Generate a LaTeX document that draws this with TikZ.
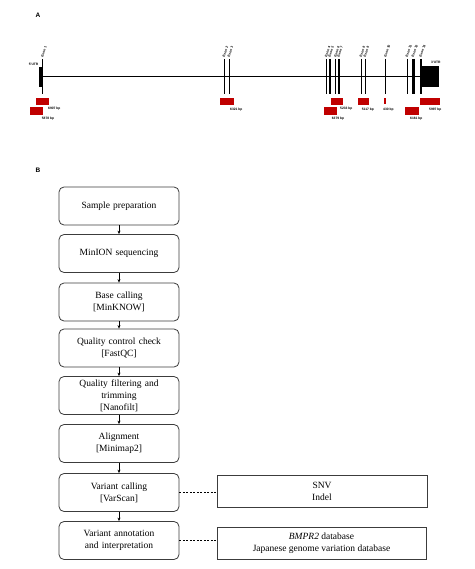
\documentclass[tikz,border=0pt]{standalone}
\usepackage{fontspec}
\setmainfont{Liberation Serif}
\newfontfamily\lsans{Liberation Sans}
\usetikzlibrary{arrows.meta}
\definecolor{exred}{RGB}{192,0,0}
\definecolor{boxline}{RGB}{60,60,60}
\begin{document}
\begin{tikzpicture}[x=1pt,y=-1pt,
  flowbox/.style={draw=boxline,line width=0.8pt,rounded corners=5pt,minimum width=120pt,minimum height=38pt,text width=112pt,align=center,inner sep=1pt,font=\fontsize{9.5}{12}\selectfont},
  sidebox/.style={draw=boxline,line width=0.8pt,minimum height=32pt,align=center,inner sep=1pt,font=\fontsize{9.5}{12}\selectfont},
  flowarrow/.style={-{Stealth[length=3.5pt,width=3pt]},line width=0.7pt},
  dashlink/.style={dashed,line width=0.6pt,dash pattern=on 2pt off 1.5pt},
  exonline/.style={line width=1.2pt},
  exlabel/.style={font=\lsans\bfseries\fontsize{3.3}{4}\selectfont,rotate=70,anchor=west,inner sep=0pt},
  bplabel/.style={font=\lsans\bfseries\fontsize{3.3}{4}\selectfont,anchor=west,inner sep=0pt},
  redbox/.style={fill=exred,draw=none},
  panel/.style={font=\lsans\bfseries\fontsize{6.5}{7}\selectfont,inner sep=0pt}
]
\useasboundingbox (0,0) rectangle (474,569);
\fill[white] (0,0) rectangle (474,569);

% ---------- Panel A ----------
\node[panel] (lblA) at (38,15) {A};
% main line
\draw[line width=0.9pt] (42.7,76.5) -- (422,76.5);
% 5'UTR and 3'UTR blocks
\fill (38.7,67) rectangle (42.7,87);
\fill (421,66) rectangle (439,87);
\node[bplabel,anchor=south east] (utr5) at (38.5,65.5) {5'UTR};
\node[bplabel,anchor=south west] (utr3) at (431,64) {3'UTR};
% exon lines
\foreach \x/\n in {42.7/1,224.3/2,229.3/3,326.5/4,330/5,335.7/6,339/7,361.3/8,365.3/9,385.7/10,407.3/11,421/13}{
  \draw[exonline] (\x,59) -- (\x,94);
  \node[exlabel] (ex\n) at (\x-0.8,57) {Exon \n};
}
\draw[line width=2.4pt] (413.3,59) -- (413.3,94);
\node[exlabel] (ex12) at (412.5,57) {Exon 12};
% red boxes and bp labels
\fill[redbox] (35.7,97.7) rectangle (49.3,105);
\node[bplabel] (bp1) at (48,108.7) {6907 bp};
\fill[redbox] (30.3,107.3) rectangle (43.3,114.7);
\node[bplabel] (bp2) at (41.7,119) {5878 bp};
\fill[redbox] (220.3,97.7) rectangle (234.3,105);
\node[bplabel] (bp3) at (230,110) {6321 bp};
\fill[redbox] (331.3,97.7) rectangle (342.7,105);
\node[bplabel] (bp4) at (340,108.7) {5233 bp};
\fill[redbox] (324.3,107.3) rectangle (337.3,114.7);
\node[bplabel] (bp5) at (331.7,119) {6379 bp};
\fill[redbox] (358.3,97.7) rectangle (369,105);
\node[bplabel] (bp6) at (361.7,110) {5117 bp};
\fill[redbox] (384.3,98.5) rectangle (386.3,104.5);
\node[bplabel] (bp7) at (383,110) {430 bp};
\fill[redbox] (405,107.3) rectangle (418.7,114.7);
\node[bplabel] (bp8) at (410,119) {6161 bp};
\fill[redbox] (420.3,97.7) rectangle (439.7,105);
\node[bplabel] (bp9) at (429,110) {5997 bp};

% ---------- Panel B ----------
\node[panel] (lblB) at (38,170) {B};
\node[flowbox] (s1) at (119,206) {Sample preparation};
\node[flowbox] (s2) at (119,253.5) {MinION sequencing};
\node[flowbox] (s3) at (119,302) {Base calling\\{}[MinKNOW]};
\node[flowbox] (s4) at (119,348) {Quality control check\\{}[FastQC]};
\node[flowbox] (s5) at (119,395.5) {Quality filtering and\\trimming\\{}[Nanofilt]};
\node[flowbox] (s6) at (119,443.5) {Alignment\\{}[Minimap2]};
\node[flowbox] (s7) at (119,492.5) {Variant calling\\{}[VarScan]};
\node[flowbox] (s8) at (119,540.5) {Variant annotation\\and interpretation};
\foreach \a/\b in {s1/s2,s2/s3,s3/s4,s4/s5,s5/s6,s6/s7,s7/s8}{
  \draw[flowarrow] (\a.south) -- (\b.north);
}
\node[sidebox,minimum width=210pt] (r1) at (322,491) {SNV\\Indel};
\node[sidebox,minimum width=209pt] (r2) at (321.5,543) {\textit{BMPR2} database\\Japanese genome variation database};
\draw[dashlink] (s7.east) -- (s7.east -| r1.west);
\draw[dashlink] (s8.east) -- (s8.east -| r2.west);
\end{tikzpicture}
\end{document}
